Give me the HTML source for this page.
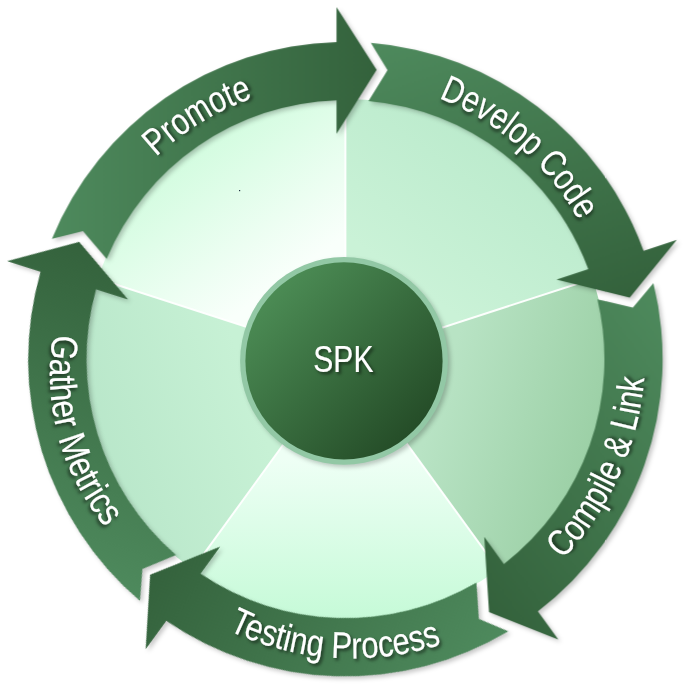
<!DOCTYPE html>
<html lang="en">
<head>
<meta charset="utf-8">
<title>SPK Cycle</title>
<style>
html,body{margin:0;padding:0;background:#fff;}
body{width:698px;height:690px;overflow:hidden;}
svg{display:block;}
.lbl{font-family:"Liberation Sans",Arial,Helvetica,sans-serif;font-size:37.33px;fill:#fff;stroke:#fff;stroke-width:0.2px;stroke-linejoin:round;}
</style>
</head>
<body>
<svg width="698" height="690" viewBox="0 0 698 690">
<defs>
<linearGradient id="ga" gradientUnits="userSpaceOnUse" x1="-292" y1="0" x2="31" y2="0">
<stop offset="0" stop-color="#4e8a5d"/><stop offset="1" stop-color="#34623c"/></linearGradient>
<linearGradient id="s0" gradientUnits="userSpaceOnUse" x1="-58.78" y1="-80.9" x2="-154" y2="-211.96"><stop offset="0" stop-color="#f9fffb"/><stop offset="1" stop-color="#d2fcdf"/></linearGradient>
<linearGradient id="s1" gradientUnits="userSpaceOnUse" x1="58.78" y1="-80.9" x2="154" y2="-211.96"><stop offset="0" stop-color="#caf2d7"/><stop offset="1" stop-color="#bcebcd"/></linearGradient>
<linearGradient id="s2" gradientUnits="userSpaceOnUse" x1="95.11" y1="30.9" x2="249.18" y2="80.96"><stop offset="0" stop-color="#b8e3c4"/><stop offset="1" stop-color="#9cd0a6"/></linearGradient>
<linearGradient id="s3" gradientUnits="userSpaceOnUse" x1="0" y1="100" x2="0" y2="262"><stop offset="0" stop-color="#eefff5"/><stop offset="1" stop-color="#c5fad7"/></linearGradient>
<linearGradient id="s4" gradientUnits="userSpaceOnUse" x1="-95.11" y1="30.9" x2="-249.18" y2="80.96"><stop offset="0" stop-color="#c7f1d5"/><stop offset="1" stop-color="#b9e7ca"/></linearGradient>
<linearGradient id="gc" x1="0.1464" y1="0.1464" x2="0.8536" y2="0.8536"><stop offset="0" stop-color="#4b8b54"/><stop offset="1" stop-color="#254d28"/></linearGradient>
<filter id="sh" x="-20%" y="-20%" width="140%" height="140%" color-interpolation-filters="sRGB"><feDropShadow dx="2.5" dy="2.5" stdDeviation="2.2" flood-color="#000" flood-opacity="0.22"/></filter>
<filter id="ts" x="-20%" y="-50%" width="140%" height="200%" color-interpolation-filters="sRGB"><feDropShadow dx="2.19" dy="2.19" stdDeviation="1.5" flood-color="#000" flood-opacity="0.5"/></filter>
<filter id="ft0" x="-20%" y="-20%" width="140%" height="140%" color-interpolation-filters="sRGB"><feDropShadow dx="3.01" dy="0.73" stdDeviation="1.5" flood-color="#000" flood-opacity="0.5"/></filter>
<filter id="ft1" x="-20%" y="-20%" width="140%" height="140%" color-interpolation-filters="sRGB"><feDropShadow dx="0.21" dy="3.09" stdDeviation="1.5" flood-color="#000" flood-opacity="0.5"/></filter>
<filter id="ft2" x="-20%" y="-20%" width="140%" height="140%" color-interpolation-filters="sRGB"><feDropShadow dx="2.9" dy="-1.1" stdDeviation="1.5" flood-color="#000" flood-opacity="0.5"/></filter>
<filter id="ft3" x="-20%" y="-20%" width="140%" height="140%" color-interpolation-filters="sRGB"><feDropShadow dx="2.04" dy="2.33" stdDeviation="1.5" flood-color="#000" flood-opacity="0.5"/></filter>
<filter id="ft4" x="-20%" y="-20%" width="140%" height="140%" color-interpolation-filters="sRGB"><feDropShadow dx="-1.54" dy="2.69" stdDeviation="1.5" flood-color="#000" flood-opacity="0.5"/></filter>
<path id="t0" d="M68.98 341.22 A277 277 0 0 1 456.74 105.46"/>
<path id="t1" d="M270.63 87.11 A277.1 277.1 0 0 1 612.73 385.55"/>
<path id="t2" d="M404.97 644.87 A295.5 295.5 0 0 0 603.42 203.29"/>
<path id="t3" d="M106.67 519.88 A287.4 287.4 0 0 0 576.48 551.09"/>
<path id="t4" d="M105.09 221.63 A238.2 238.2 0 0 0 207.41 598.22"/>
</defs>
<rect width="698" height="690" fill="#fff"/>
<g transform="translate(345.4 359.1)">
<path d="M0 0 L-247.46 -80.41 A260.2 260.2 0 0 1 -0 -260.2 Z" fill="url(#s0)"/>
<path d="M0 0 L0 -260.2 A260.2 260.2 0 0 1 247.46 -80.41 Z" fill="url(#s1)"/>
<path d="M0 0 L247.46 -80.41 A260.2 260.2 0 0 1 152.94 210.51 Z" fill="url(#s2)"/>
<path d="M0 0 L152.94 210.51 A260.2 260.2 0 0 1 -152.94 210.51 Z" fill="url(#s3)"/>
<path d="M0 0 L-152.94 210.51 A260.2 260.2 0 0 1 -247.46 -80.41 Z" fill="url(#s4)"/>
<line x1="0" y1="0" x2="0" y2="-260.2" stroke="#fff" stroke-width="2" stroke-opacity="0.95"/>
<line x1="0" y1="0" x2="247.46" y2="-80.41" stroke="#fff" stroke-width="2" stroke-opacity="0.95"/>
<line x1="0" y1="0" x2="152.94" y2="210.51" stroke="#fff" stroke-width="2" stroke-opacity="0.95"/>
<line x1="0" y1="0" x2="-152.94" y2="210.51" stroke="#fff" stroke-width="2" stroke-opacity="0.95"/>
<line x1="0" y1="0" x2="-247.46" y2="-80.41" stroke="#fff" stroke-width="2" stroke-opacity="0.95"/>
</g>
<rect x="239" y="190" width="1.2" height="1.2" fill="#234"/>
<g transform="translate(345.4 359.1)" filter="url(#sh)">
<path d="M-292.09 -123.69 A317.2 317.2 0 0 1 -8.9 -317.08 L-8.9 -352.1 L31.2 -289.2 L-8.9 -225.3 L-8.9 -258.85 A259 259 0 0 0 -237.61 -103.07 L-260.98 -130.97 Z" fill="url(#ga)" transform="rotate(71.65)"/>
<path d="M-294.31 -118.31 A317.2 317.2 0 0 1 -8.9 -317.08 L-8.9 -352.1 L31.2 -289.2 L-8.9 -225.3 L-8.9 -258.85 A259 259 0 0 0 -239.46 -98.7 L-263.34 -126.17 Z" fill="url(#ga)" transform="rotate(144.25)"/>
<path d="M-291.77 -124.45 A317.2 317.2 0 0 1 -8.9 -317.08 L-8.9 -352.1 L31.2 -289.2 L-8.9 -225.3 L-8.9 -258.85 A259 259 0 0 0 -237.34 -103.69 L-260.64 -131.66 Z" fill="url(#ga)" transform="rotate(216)"/>
<path d="M-292.52 -122.66 A317.2 317.2 0 0 1 -8.9 -317.08 L-8.9 -352.1 L31.2 -289.2 L-8.9 -225.3 L-8.9 -258.85 A259 259 0 0 0 -237.97 -102.24 L-261.43 -130.06 Z" fill="url(#ga)" transform="rotate(287.6)"/>
<path d="M-293.48 -120.36 A317.2 317.2 0 0 1 -8.9 -317.08 L-8.9 -352.1 L31.2 -289.2 L-8.9 -225.3 L-8.9 -258.85 A259 259 0 0 0 -238.76 -100.37 L-262.45 -128 Z" fill="url(#ga)" transform="rotate(0)"/>
</g>
<g filter="url(#sh)">
<circle cx="344" cy="360.9" r="103.9" fill="#92c8a5"/>
</g>
<circle cx="344" cy="360.9" r="98.6" fill="url(#gc)"/>
<g class="lbl">
<text filter="url(#ft0)"><textPath href="#t0" startOffset="50%" text-anchor="middle" textLength="114" lengthAdjust="spacingAndGlyphs">Promote</textPath></text>
<text filter="url(#ft1)"><textPath href="#t1" startOffset="50%" text-anchor="middle" textLength="189.5" lengthAdjust="spacingAndGlyphs">Develop Code</textPath></text>
<text filter="url(#ft2)"><textPath href="#t2" startOffset="50%" text-anchor="middle" textLength="202.8" lengthAdjust="spacingAndGlyphs">Compile &amp; Link</textPath></text>
<text filter="url(#ft3)"><textPath href="#t3" startOffset="50%" text-anchor="middle" textLength="219" lengthAdjust="spacingAndGlyphs">Testing Process</textPath></text>
<text filter="url(#ft4)"><textPath href="#t4" startOffset="50%" text-anchor="middle" textLength="206" lengthAdjust="spacingAndGlyphs">Gather Metrics</textPath></text>
<text filter="url(#ts)" x="343.4" y="371.8" text-anchor="middle" textLength="60.2" lengthAdjust="spacingAndGlyphs">SPK</text>
</g>
</svg>
</body>
</html>
